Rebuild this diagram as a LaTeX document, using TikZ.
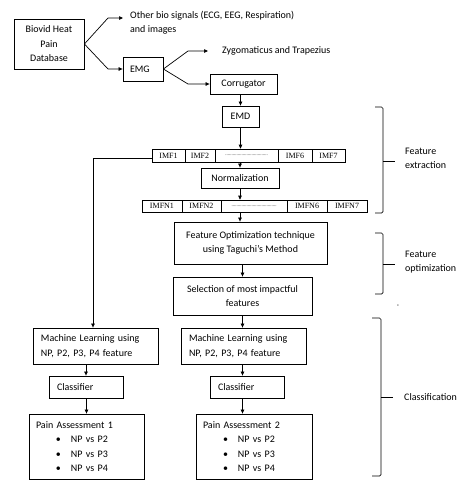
\documentclass[tikz,border=0pt]{standalone}
\usepackage{fontspec}
\setmainfont{Carlito}
\newfontfamily\cellfont{Liberation Serif}
\usetikzlibrary{arrows.meta}
\begin{document}
\begin{tikzpicture}[x=1pt,y=-1pt,
  box/.style={draw, line width=0.8pt, inner sep=0pt, font=\fontsize{10}{14.5}\selectfont},
  cell/.style={draw, line width=0.6pt, inner sep=0pt, font=\cellfont\fontsize{8}{8}\selectfont},
  dots/.style={cell, font=\cellfont\fontsize{5}{5}\selectfont},
  arr/.style={line width=0.7pt, -{Triangle[length=4pt,width=3.5pt]}},
  ln/.style={line width=0.7pt},
  brace/.style={line width=0.7pt, rounded corners=1.5pt},
  lbl/.style={font=\fontsize{10}{14.5}\selectfont, inner sep=0pt, align=left}]
\useasboundingbox (0,0) rectangle (474,496);

% top part
\node[box, minimum width=70, minimum height=50, align=center] (bio) at (49,44) {Biovid Heat\\Pain\\Database};
\node[lbl, anchor=west] (other) at (130,22.5) {Other bio signals (ECG, EEG, Respiration)\\and images};
\node[box, minimum width=40, minimum height=24, text width=26, align=left] (emg) at (143,69) {EMG};
\node[lbl, anchor=west] (zyg) at (222,51) {Zygomaticus and Trapezius};
\node[box, minimum width=67, minimum height=20] (corr) at (243.5,84) {Corrugator};
\node[box, minimum width=37, minimum height=21] (emd) at (240.5,116.5) {EMD};

\coordinate (b1) at (108,18);
\coordinate (otip) at (123,18);
\coordinate (b2) at (108,69);
\coordinate (b3) at (188,51);
\coordinate (ztip) at (208,51);
\coordinate (b4) at (188,84);
\draw[arr] (bio.east) -- (b1) -- (otip);
\draw[arr] (bio.east) -- (b2) -- (emg.west);
\draw[arr] (emg.east) -- (b3) -- (ztip);
\draw[arr] (emg.east) -- (b4) -- (corr.west);
\draw[arr] (emd.north |- corr.south) -- (emd.north);

% IMF row
\node[cell, minimum width=33, minimum height=13] (imf1) at (168.5,155.5) {IMF1};
\node[cell, minimum width=30, minimum height=13] (imf2) at (200,155.5) {IMF2};
\node[dots, minimum width=63, minimum height=13] (imfd) at (246.5,155.5) {..................................};
\node[cell, minimum width=34, minimum height=13] (imf6) at (295,155.5) {IMF6};
\node[cell, minimum width=33, minimum height=13] (imf7) at (328.5,155.5) {IMF7};

\node[box, minimum width=78, minimum height=20] (norm) at (240,178) {Normalization};

% IMFN row
\node[cell, minimum width=40, minimum height=12] (imfn1) at (162,206) {IMFN1};
\node[cell, minimum width=39, minimum height=12] (imfn2) at (201.5,206) {IMFN2};
\node[dots, minimum width=66, minimum height=12] (imfnd) at (254,206) {....................................};
\node[cell, minimum width=40, minimum height=12] (imfn6) at (307,206) {IMFN6};
\node[cell, minimum width=40, minimum height=12] (imfn7) at (347,206) {IMFN7};

\node[box, minimum width=153, minimum height=42, align=center] (fo) at (250.5,243) {Feature Optimization technique\\using Taguchi's Method};
\node[box, minimum width=139, minimum height=38, align=center] (sel) at (242.5,296) {Selection of most impactful\\features};

\draw[arr] (emd.south) -- (emd.south |- imfd.north);
\draw[arr] (norm.north |- imfd.south) -- (norm.north);
\draw[arr] (norm.south) -- (norm.south |- imfnd.north);
\draw[arr] (norm.south |- imfnd.south) -- (norm.south |- fo.north);
\draw[arr] (sel.north |- fo.south) -- (sel.north);

% classification branch 2
\node[box, minimum width=125, minimum height=36, text width=109, align=left] (ml2) at (243.5,346) {Machine Learning using\\NP, P2, P3, P4 feature};
\node[box, minimum width=74, minimum height=22, text width=58, align=left] (cl2) at (247,387) {Classifier};
\node[box, minimum width=116, minimum height=65, text width=102, align=left] (pa2) at (254,446.5)
  {Pain Assessment 2\\\hspace*{20pt}\textbullet\hspace{10pt}NP vs P2\\\hspace*{20pt}\textbullet\hspace{10pt}NP vs P3\\\hspace*{20pt}\textbullet\hspace{10pt}NP vs P4};

\draw[arr] (sel.south) -- (sel.south |- ml2.north);
\draw[arr] (sel.south |- ml2.south) -- (sel.south |- cl2.north);
\draw[arr] (sel.south |- cl2.south) -- (sel.south |- pa2.north);

% classification branch 1
\node[box, minimum width=125, minimum height=36, text width=109, align=left] (ml1) at (95.5,346) {Machine Learning using\\NP, P2, P3, P4 feature};
\node[box, minimum width=74, minimum height=22, text width=58, align=left] (cl1) at (86,387) {Classifier};
\node[box, minimum width=115, minimum height=65, text width=101, align=left] (pa1) at (86.5,446.5)
  {Pain Assessment 1\\\hspace*{20pt}\textbullet\hspace{10pt}NP vs P2\\\hspace*{20pt}\textbullet\hspace{10pt}NP vs P3\\\hspace*{20pt}\textbullet\hspace{10pt}NP vs P4};

\coordinate (lc) at (93,158);
\draw[arr] (imf1.west |- lc) -- (lc) -- (lc |- ml1.north);
\draw[arr] (cl1.north |- ml1.south) -- (cl1.north);
\draw[arr] (pa1.north |- cl1.south) -- (pa1.north);

% braces
\draw[brace] (375,107) -- (383,107) -- (383,213) -- (375,213);
\draw[ln] (383,161) -- (395,161);
\node[lbl, anchor=west] (fe) at (405,158.5) {Feature\\extraction};
\draw[brace] (375,233) -- (383,233) -- (383,294) -- (375,294);
\draw[ln] (383,264) -- (395,264);
\node[lbl, anchor=west] (fop) at (405,262) {Feature\\optimization};
\node[font=\fontsize{7}{7}\selectfont, inner sep=0pt] (dash) at (398,306) {-};
\draw[brace] (372,318) -- (381,318) -- (381,476) -- (372,476);
\draw[ln] (381,397) -- (393,397);
\node[lbl, anchor=west] (cls) at (404,397) {Classification};
\end{tikzpicture}
\end{document}
